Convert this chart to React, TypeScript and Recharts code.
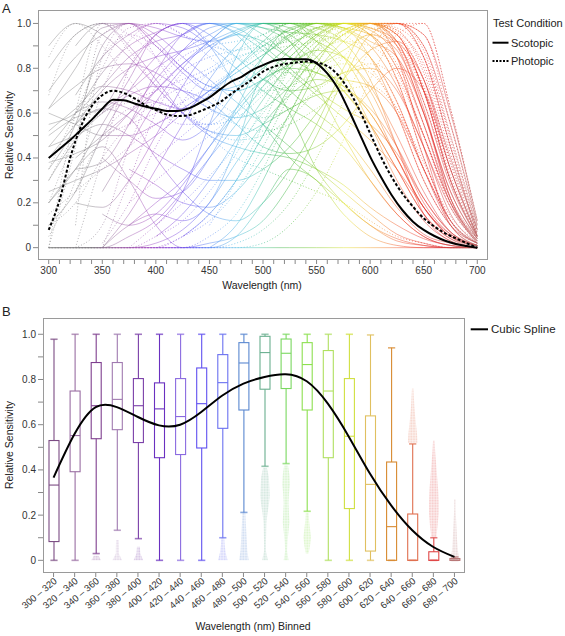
import React from 'react';
import { ComposedChart, Line, Bar, XAxis, YAxis } from 'recharts';

// ---- Panel A: individual sensitivity curves (sampled every 25 nm) ----
const curveWavelengths = [300, 325, 350, 375, 400, 425, 450, 475, 500, 525, 550, 575, 600, 625, 650, 675, 700];

type V = number | null;

const scotopicCurves: V[][] = [
    [0.40, 0.55, 0.70, 0.80, 0.85, 0.88, 0.92, 0.97, 1.0, 1.0, 0.95, 0.85, 0.65, 0.40, 0.18, 0.06, 0.01],
    [0.52, 0.62, 0.72, 0.70, 0.65, 0.62, 0.68, 0.80, 0.92, 1.0, 1.0, 0.97, 0.90, 0.72, 0.45, 0.18, 0.03],
    [null, 0.68, 0.85, 0.95, 1.0, 0.98, 0.90, 0.80, 0.70, 0.62, 0.55, 0.45, 0.30, 0.15, 0.05, 0.01, 0],
    [0.35, 0.55, 0.90, 1.0, 0.92, 0.80, 0.72, 0.70, 0.75, 0.82, 0.88, 0.85, 0.70, 0.45, 0.20, 0.06, 0.01],
    [null, null, 0, 0.15, 0.35, 0.55, 0.75, 0.90, 1.0, 1.0, 1.0, 0.98, 0.95, 0.80, 0.50, 0.20, 0.03],
    [null, null, null, 0.1, 0.2, 0.3, 0.45, 0.6, 0.75, 0.88, 0.98, 1.0, 1.0, 1.0, 0.85, 0.45, 0.05],
    [0.8, 0.95, 1.0, 0.9, 0.75, 0.6, 0.5, 0.45, 0.42, 0.40, 0.35, 0.28, 0.18, 0.10, 0.04, 0.01, 0],
    [null, 0.35, 0.38, 0.55, 0.78, 0.95, 1.0, 0.95, 0.82, 0.70, 0.60, 0.50, 0.35, 0.18, 0.06, 0.02, 0],
    [0.62, 0.80, 0.98, 1.0, 0.9, 0.78, 0.70, 0.72, 0.80, 0.90, 0.97, 1.0, 0.95, 0.75, 0.40, 0.12, 0.02],
    [null, null, 0.40, 0.30, 0.22, 0.25, 0.40, 0.62, 0.85, 0.98, 1.0, 0.98, 0.92, 0.85, 0.60, 0.25, 0.04],
    [0, 0, 0, 0.05, 0.12, 0.25, 0.40, 0.55, 0.72, 0.85, 0.95, 1.0, 1.0, 0.95, 0.70, 0.30, 0.05],
    [null, 0.55, 0.62, 0.58, 0.40, 0.25, 0.15, 0.12, 0.20, 0.35, 0.55, 0.80, 1.0, 1.0, 0.90, 0.55, 0.10],
    [0.2, 0.35, 0.55, 0.75, 0.95, 1.0, 0.90, 0.72, 0.55, 0.40, 0.30, 0.20, 0.10, 0.04, 0.01, 0, 0],
    [null, null, 0.25, 0.45, 0.65, 0.80, 0.92, 1.0, 1.0, 0.95, 0.85, 0.70, 0.55, 0.35, 0.15, 0.04, 0.01],
    [0.5, 0.58, 0.62, 0.70, 0.80, 0.88, 0.95, 1.0, 0.98, 0.92, 0.82, 0.72, 0.60, 0.40, 0.18, 0.05, 0.01],
    [0.3, 0.48, 0.60, 0.68, 0.72, 0.70, 0.65, 0.55, 0.45, 0.42, 0.45, 0.55, 0.70, 0.80, 0.70, 0.35, 0.05],
    [null, null, null, null, 0.1, 0.25, 0.55, 0.85, 1.0, 0.92, 0.72, 0.50, 0.30, 0.15, 0.05, 0.01, 0],
    [0.7, 0.85, 0.95, 1.0, 0.98, 0.94, 0.92, 0.95, 1.0, 1.0, 0.92, 0.78, 0.55, 0.30, 0.12, 0.03, 0],
    [0, 0, 0, 0, 0, 0, 0.02, 0.05, 0.12, 0.28, 0.50, 0.75, 0.95, 1.0, 0.95, 0.60, 0.12],
    [0.55, 0.6, 0.72, 0.85, 0.92, 0.95, 1.0, 0.98, 0.90, 0.80, 0.70, 0.62, 0.55, 0.42, 0.22, 0.07, 0.01],
    [null, 0.6, 0.65, 0.62, 0.55, 0.48, 0.55, 0.70, 0.85, 0.95, 1.0, 0.98, 0.85, 0.60, 0.30, 0.10, 0.02],
    [0.38, 0.42, 0.48, 0.60, 0.75, 0.88, 0.98, 1.0, 0.95, 0.85, 0.78, 0.75, 0.72, 0.60, 0.35, 0.12, 0.02],
    [null, null, null, 0.35, 0.28, 0.20, 0.18, 0.25, 0.40, 0.60, 0.82, 0.97, 1.0, 0.90, 0.60, 0.25, 0.04],
    [0.9, 1.0, 0.95, 0.85, 0.72, 0.60, 0.52, 0.50, 0.55, 0.62, 0.68, 0.70, 0.62, 0.45, 0.22, 0.07, 0.01],
    [0, 0, 0, 0, 0.02, 0.08, 0.20, 0.38, 0.55, 0.68, 0.75, 0.72, 0.60, 0.40, 0.18, 0.05, 0.01],
    [0.45, 0.6, 0.78, 0.9, 0.96, 1.0, 1.0, 0.96, 0.88, 0.78, 0.68, 0.58, 0.48, 0.35, 0.18, 0.05, 0.01],
    [null, 0.2, 0.18, 0.3, 0.5, 0.72, 0.88, 0.95, 0.92, 0.85, 0.82, 0.88, 0.95, 0.88, 0.60, 0.22, 0.03],
    [0.62, 0.72, 0.8, 0.82, 0.78, 0.70, 0.62, 0.58, 0.62, 0.72, 0.85, 0.95, 1.0, 0.92, 0.65, 0.28, 0.05],
    [0, 0, 0, 0, 0, 0, 0, 0, 0, 0, 0, 0, 0, 0, 0, 0, 0],
    [null, null, 0.15, 0.10, 0.15, 0.28, 0.45, 0.62, 0.75, 0.80, 0.78, 0.70, 0.55, 0.35, 0.15, 0.04, 0],
    [null, null, null, null, null, 0.05, 0.15, 0.3, 0.5, 0.72, 0.9, 1.0, 1.0, 0.85, 0.45, 0.1, 0.01],
    [0.25, 0.3, 0.35, 0.42, 0.5, 0.6, 0.7, 0.8, 0.9, 0.97, 1.0, 1.0, 0.98, 0.92, 0.75, 0.40, 0.08],
    [null, 0.9, 1.0, 1.0, 0.95, 0.85, 0.75, 0.65, 0.55, 0.45, 0.35, 0.25, 0.15, 0.06, 0.02, 0, 0],
    [null, null, null, 0.55, 0.70, 0.82, 0.90, 0.96, 1.0, 1.0, 0.98, 0.92, 0.75, 0.45, 0.15, 0.03, 0],
    [0.2, 0.35, 0.45, 0.3, 0.1, 0.0, 0.0, 0.05, 0.2, 0.35, 0.3, 0.15, 0.05, 0.01, 0, 0, 0],
    [null, null, 0.0, 0.1, 0.15, 0.12, 0.2, 0.45, 0.75, 0.6, 0.35, 0.2, 0.1, 0.03, 0.01, 0, 0],
    [null, null, null, null, 0.05, 0.15, 0.3, 0.48, 0.66, 0.82, 0.94, 1.0, 1.0, 0.92, 0.62, 0.22, 0.02],
    [0.6, 0.55, 0.5, 0.5, 0.55, 0.62, 0.7, 0.78, 0.86, 0.94, 1.0, 1.0, 0.97, 0.85, 0.55, 0.2, 0.02],
    [null, 0.4, 0.5, 0.6, 0.7, 0.82, 0.92, 1.0, 1.0, 0.98, 0.92, 0.85, 0.72, 0.5, 0.25, 0.07, 0.01],
    [null, null, 0.6, 0.8, 0.95, 1.0, 0.95, 0.85, 0.75, 0.7, 0.72, 0.78, 0.8, 0.7, 0.45, 0.15, 0.02],
    [0.1, 0.25, 0.5, 0.7, 0.85, 0.95, 1.0, 1.0, 0.98, 0.96, 0.95, 0.92, 0.85, 0.65, 0.35, 0.1, 0.01],
    [null, null, null, null, null, null, 0, 0.1, 0.3, 0.55, 0.78, 0.92, 1.0, 0.95, 0.7, 0.3, 0.04],
    [0.45, 0.5, 0.55, 0.5, 0.42, 0.35, 0.3, 0.3, 0.35, 0.45, 0.6, 0.75, 0.88, 0.92, 0.75, 0.35, 0.05],
];

const photopicCurves: V[][] = [
    [0.0, 0.45, 0.95, 1.0, 0.90, 0.80, 0.72, 0.70, 0.75, 0.85, 0.95, 1.0, 0.95, 0.75, 0.40, 0.12, 0.02],
    [null, 0.0, 0.40, 0.80, 0.95, 1.0, 0.92, 0.85, 0.80, 0.78, 0.80, 0.85, 0.80, 0.60, 0.30, 0.10, 0.02],
    [0.68, 0.95, 1.0, 0.88, 0.72, 0.60, 0.55, 0.58, 0.68, 0.80, 0.92, 1.0, 1.0, 0.85, 0.55, 0.22, 0.04],
    [null, null, 0.0, 0.30, 0.60, 0.78, 0.85, 0.88, 0.92, 0.97, 1.0, 1.0, 0.98, 0.90, 0.70, 0.35, 0.06],
    [0.05, 0.30, 0.70, 0.92, 1.0, 0.95, 0.85, 0.75, 0.70, 0.72, 0.78, 0.82, 0.78, 0.62, 0.35, 0.12, 0.02],
    [null, null, null, 0.0, 0.1, 0.2, 0.32, 0.45, 0.6, 0.75, 0.88, 0.97, 1.0, 1.0, 0.85, 0.50, 0.08],
    [0.85, 1.0, 0.9, 0.75, 0.62, 0.55, 0.55, 0.62, 0.72, 0.82, 0.88, 0.92, 0.90, 0.78, 0.50, 0.20, 0.04],
    [null, 0.0, 0.10, 0.45, 0.72, 0.85, 0.90, 0.92, 0.95, 1.0, 1.0, 0.95, 0.85, 0.65, 0.35, 0.12, 0.02],
    [0, 0, 0, 0, 0.05, 0.12, 0.25, 0.42, 0.62, 0.80, 0.92, 1.0, 1.0, 0.98, 0.85, 0.45, 0.06],
    [0.35, 0.60, 0.85, 0.95, 0.90, 0.80, 0.68, 0.60, 0.58, 0.62, 0.70, 0.78, 0.82, 0.75, 0.50, 0.20, 0.04],
    [null, null, 0.02, 0.20, 0.45, 0.65, 0.78, 0.85, 0.88, 0.90, 0.92, 0.95, 0.98, 0.95, 0.75, 0.38, 0.07],
    [0.0, 0.60, 1.0, 0.95, 0.85, 0.72, 0.62, 0.55, 0.52, 0.55, 0.62, 0.70, 0.72, 0.62, 0.38, 0.14, 0.03],
    [null, null, null, null, 0.0, 0.05, 0.15, 0.30, 0.50, 0.70, 0.85, 0.95, 1.0, 1.0, 0.95, 0.55, 0.09],
    [0.2, 0.5, 0.8, 0.98, 1.0, 0.95, 0.90, 0.88, 0.90, 0.92, 0.95, 0.98, 0.95, 0.80, 0.50, 0.18, 0.03],
    [0, 0, 0, 0, 0, 0, 0, 0, 0.02, 0.10, 0.25, 0.48, 0.75, 0.95, 1.0, 0.62, 0.10],
    [null, 0.25, 0.5, 0.62, 0.65, 0.60, 0.52, 0.48, 0.50, 0.58, 0.70, 0.85, 0.95, 0.92, 0.70, 0.32, 0.06],
    [null, null, null, 0.0, 0.0, 0.0, 0.05, 0.15, 0.35, 0.60, 0.82, 0.95, 1.0, 1.0, 0.90, 0.50, 0.08],
    [0.1, 0.2, 0.4, 0.55, 0.65, 0.72, 0.78, 0.84, 0.90, 0.95, 0.98, 1.0, 1.0, 0.97, 0.80, 0.42, 0.08],
    [null, 0.1, 0.85, 1.0, 0.85, 0.65, 0.50, 0.40, 0.35, 0.30, 0.25, 0.20, 0.12, 0.05, 0.02, 0, 0],
    [0, 0, 0, 0, 0, 0, 0, 0.02, 0.08, 0.20, 0.40, 0.65, 0.88, 1.0, 1.0, 0.62, 0.12],
    [null, null, null, null, null, null, 0.1, 0.3, 0.55, 0.8, 0.95, 1.0, 1.0, 0.95, 0.7, 0.3, 0.05],
    [0.3, 0.5, 0.6, 0.65, 0.7, 0.75, 0.8, 0.88, 0.95, 1.0, 1.0, 1.0, 1.0, 0.9, 0.65, 0.3, 0.06],
    [null, null, 0.5, 0.55, 0.6, 0.65, 0.72, 0.8, 0.88, 0.95, 1.0, 1.0, 0.95, 0.82, 0.55, 0.22, 0.04],
    [0, 0, 0, 0, 0, 0.05, 0.12, 0.25, 0.45, 0.68, 0.88, 1.0, 1.0, 1.0, 0.88, 0.48, 0.08],
    [null, null, null, null, 0.4, 0.5, 0.6, 0.7, 0.8, 0.9, 0.98, 1.0, 0.98, 0.9, 0.72, 0.35, 0.05],
    [0.15, 0.25, 0.35, 0.45, 0.55, 0.62, 0.7, 0.78, 0.86, 0.93, 0.98, 1.0, 1.0, 0.96, 0.82, 0.45, 0.07],
    [null, null, null, 0.2, 0.3, 0.4, 0.5, 0.6, 0.7, 0.8, 0.9, 0.97, 1.0, 0.97, 0.78, 0.38, 0.05],
];

// ---- Panel A: condition means (every 10 nm) ----
const meanWavelengths = [
    300, 310, 320, 330, 340, 350, 360, 370, 380, 390, 400, 410, 420, 430, 440, 450, 460, 470, 480, 490,
    500, 510, 520, 530, 540, 550, 560, 570, 580, 590, 600, 610, 620, 630, 640, 650, 660, 670, 680, 690, 700,
];
const scotopicMean = [
    0.40, 0.44, 0.48, 0.525, 0.57, 0.62, 0.66, 0.658, 0.643, 0.63, 0.62, 0.61, 0.61, 0.62, 0.643, 0.67, 0.706, 0.74, 0.762, 0.792,
    0.814, 0.834, 0.842, 0.84, 0.84, 0.822, 0.777, 0.71, 0.614, 0.51, 0.406, 0.316, 0.235, 0.168, 0.116, 0.079, 0.052, 0.031, 0.016, 0.007, 0,
];
const photopicMean = [
    0.079, 0.21, 0.40, 0.54, 0.63, 0.68, 0.70, 0.69, 0.666, 0.636, 0.614, 0.594, 0.587, 0.59, 0.606, 0.626, 0.65, 0.685, 0.718, 0.75,
    0.785, 0.807, 0.819, 0.825, 0.83, 0.825, 0.81, 0.77, 0.703, 0.614, 0.51, 0.406, 0.316, 0.242, 0.183, 0.131, 0.094, 0.064, 0.042, 0.02, 0,
];

const xLabelTicks = [300, 350, 400, 450, 500, 550, 600, 650, 700];
const sensitivityTicks = [0, 0.1, 0.2, 0.3, 0.4, 0.5, 0.6, 0.7, 0.8, 0.9, 1.0];

// ---- Panel B: binned box plots ----
const bins = [
    '300 – 320', '320 – 340', '340 – 360', '360 – 380', '380 – 400', '400 – 420', '420 – 440', '440 – 460', '460 – 480', '480 – 500',
    '500 – 520', '520 – 540', '540 – 560', '560 – 580', '580 – 600', '600 – 620', '620 – 640', '640 – 660', '660 – 680', '680 – 700',
];
const whiskerLow = [0, 0, 0.03, 0.133, 0.096, 0, 0, 0, 0.10, 0.212, 0.416, 0.428, 0.217, 0, 0, 0, 0, 0, 0, 0];
const q1 = [0.083, 0.392, 0.538, 0.578, 0.521, 0.454, 0.468, 0.497, 0.584, 0.665, 0.757, 0.76, 0.665, 0.454, 0.229, 0.041, 0, 0, 0, 0];
const median = [0.333, 0.552, 0.684, 0.712, 0.684, 0.67, 0.636, 0.693, 0.786, 0.873, 0.919, 0.916, 0.866, 0.749, 0.549, 0.336, 0.149, 0, 0, 0];
const q3 = [0.53, 0.749, 0.875, 0.875, 0.804, 0.785, 0.804, 0.851, 0.91, 0.963, 0.991, 0.979, 0.963, 0.928, 0.804, 0.639, 0.435, 0.205, 0.038, 0.008];
const whiskerHigh = [0.978, 1, 1, 1, 1, 1, 1, 1, 1, 1, 1, 1, 1, 1, 1, 0.997, 0.94, 0.515, 0.10, 0.015];
const outlierLow: V[] = [null, null, 0, 0, 0, null, null, null, 0, 0, 0, 0, 0.03, null, null, null, null, 0.52, 0.10, 0];
const outlierHigh: V[] = [null, null, 0.02, 0.09, 0.06, null, null, null, 0.10, 0.21, 0.41, 0.42, 0.21, null, null, null, null, 0.76, 0.53, 0.27];
// relative density of outlier points, bottom to top
const outlierDensity: (number[] | null)[] = [
    null, null,
    [1, 0.5],
    [1, 0.3, 0.3, 0.25],
    [1, 0.4, 0.3],
    null, null, null,
    [1, 0.6, 0.4, 0.3],
    [1, 0.7, 0.6, 0.5, 0.4, 0.3],
    [0.6, 0.2, 0.2, 0.25, 0.3, 0.5, 0.8, 1.0, 0.9, 0.8, 0.4],
    [0.5, 0.2, 0.3, 0.5, 0.7, 0.6, 0.5, 0.6, 0.8, 0.7, 0.4],
    [0.3, 0.6, 0.8, 0.6, 0.4, 0.3],
    null, null, null, null,
    [1.0, 0.9, 0.7, 0.5, 0.35, 0.25, 0.15],
    [0.5, 0.8, 1.0, 1.0, 0.9, 0.7, 0.5, 0.3, 0.15],
    [1.0, 0.6, 0.45, 0.35, 0.25, 0.15, 0.08],
];
const cubicSpline = [0.366, 0.56, 0.678, 0.678, 0.634, 0.597, 0.60, 0.656, 0.729, 0.782, 0.811, 0.823, 0.792, 0.693, 0.546, 0.383, 0.243, 0.133, 0.059, 0.015];
const binColors = [
    '#7b4b83', '#9a6ea3', '#7f3f8f', '#a07ab0', '#7a3fa8', '#6a30c0', '#8a6ae0', '#6050f0', '#6a70f0', '#5a88d0',
    '#6aaf8f', '#7ad860', '#8de050', '#b0e060', '#d0e040', '#e0c060', '#d88a30', '#e07050', '#e04848', '#b87878',
];

const spectrumStops = [
    { nm: 300, color: '#8a8a8a' },
    { nm: 340, color: '#7e7a80' },
    { nm: 365, color: '#9a62a2' },
    { nm: 390, color: '#a048b8' },
    { nm: 415, color: '#8444d8' },
    { nm: 435, color: '#5a52f0' },
    { nm: 455, color: '#4a88f0' },
    { nm: 475, color: '#40b4e0' },
    { nm: 495, color: '#38c0a8' },
    { nm: 515, color: '#30b040' },
    { nm: 540, color: '#5cc020' },
    { nm: 560, color: '#a0d020' },
    { nm: 578, color: '#e0e020' },
    { nm: 600, color: '#f0a020' },
    { nm: 630, color: '#f04020' },
    { nm: 660, color: '#e02424' },
    { nm: 700, color: '#b86060' },
];

const FONT = '"Liberation Sans", Arial, Helvetica, sans-serif';

// chart A geometry
const A_W = 565, A_H = 300;
const A_MARGIN = { top: 10, right: 77, bottom: 10, left: 0 };
const A_YAXIS_W = 38;
const A_DOMAIN: [number, number] = [290, 710];
const aPlotLeft = A_MARGIN.left + A_YAXIS_W;
const aPlotWidth = A_W - aPlotLeft - A_MARGIN.right;
const nmToPx = (nm: number) => aPlotLeft + ((nm - A_DOMAIN[0]) / (A_DOMAIN[1] - A_DOMAIN[0])) * aPlotWidth;

const minorWavelengthTicks = Array.from({ length: 41 }, (_, i) => 300 + i * 10);

const curveRows = (() => {
    const rows: Record<string, number | null>[] = [];
    for (let w = 300; w <= 700; w += 5) {
        const row: Record<string, number | null> = { w };
        const mi = meanWavelengths.indexOf(w);
        if (mi >= 0) {
            row.scotopic = scotopicMean[mi];
            row.photopic = photopicMean[mi];
        }
        const ci = curveWavelengths.indexOf(w);
        if (ci >= 0) {
            scotopicCurves.forEach((c, k) => (row['s' + k] = c[ci]));
            photopicCurves.forEach((c, k) => (row['p' + k] = c[ci]));
        }
        rows.push(row);
    }
    return rows;
})();

const boxRows = bins.map((bin, i) => {
    const lo = Math.min(whiskerLow[i], outlierLow[i] ?? whiskerLow[i]);
    const hi = Math.max(whiskerHigh[i], outlierHigh[i] ?? whiskerHigh[i]);
    return { bin, i, range: [lo, hi], spline: cubicSpline[i] };
});

const YTick = (props: any) => {
    const { x, y, payload } = props;
    const v = Math.round(payload.value * 10);
    if (v % 2 !== 0) return <g />;
    return (
        <text x={x} y={y} dy="0.35em" textAnchor="end" fontSize={10} fontFamily={FONT} fill="#333">
            {v === 0 ? '0' : (v / 10).toFixed(1)}
        </text>
    );
};

const XTickA = (props: any) => {
    const { x, y, payload } = props;
    if (!xLabelTicks.includes(payload.value)) return <g />;
    return (
        <text x={x} y={y} dy="0.75em" textAnchor="middle" fontSize={10} fontFamily={FONT} fill="#333">
            {payload.value}
        </text>
    );
};

const XTickB = (props: any) => {
    const { x, y, payload } = props;
    const ax = x + 4;
    const ay = y + 3;
    return (
        <text x={ax} y={ay} textAnchor="end" fontSize={9.5} fontFamily={FONT} fill="#333" transform={`rotate(-40, ${ax}, ${ay})`}>
            {payload.value}
        </text>
    );
};

const BoxShape = (props: any) => {
    const { x, y, width, height, payload } = props;
    const i: number = payload.i;
    const [lo, hi] = payload.range as number[];
    const top = Math.min(y, y + height);
    const h = Math.abs(height);
    const py = (v: number) => top + (h * (hi - v)) / (hi - lo);
    const cx = x + width / 2;
    const c = binColors[i];
    const cap = 3.6;

    let cloud: React.ReactNode = null;
    const dens = outlierDensity[i];
    const oLo = outlierLow[i];
    const oHi = outlierHigh[i];
    if (dens && oLo != null && oHi != null) {
        const n = dens.length;
        const maxHalf = 4.8;
        const at = (k: number) => py(oLo + ((oHi - oLo) * k) / (n - 1));
        const right = dens.map((d, k) => `${cx + Math.max(0.7, d * maxHalf)},${at(k)}`);
        const left = dens.map((d, k) => `${cx - Math.max(0.7, d * maxHalf)},${at(k)}`).reverse();
        cloud = <polygon points={[...right, ...left].join(' ')} fill={`url(#dots${i})`} stroke="none" />;
    }

    return (
        <g>
            {cloud}
            <line x1={cx} x2={cx} y1={py(whiskerHigh[i])} y2={py(q3[i])} stroke={c} strokeWidth={1.1} />
            <line x1={cx} x2={cx} y1={py(q1[i])} y2={py(whiskerLow[i])} stroke={c} strokeWidth={1.1} />
            <line x1={cx - cap} x2={cx + cap} y1={py(whiskerHigh[i])} y2={py(whiskerHigh[i])} stroke={c} strokeWidth={1.6} strokeOpacity={0.7} />
            <line x1={cx - cap} x2={cx + cap} y1={py(whiskerLow[i])} y2={py(whiskerLow[i])} stroke={c} strokeWidth={1.6} strokeOpacity={0.7} />
            <rect x={x} y={py(q3[i])} width={width} height={Math.max(0.5, py(q1[i]) - py(q3[i]))} fill="none" stroke={c} strokeWidth={1.1} />
            <line x1={x} x2={x + width} y1={py(median[i])} y2={py(median[i])} stroke={c} strokeWidth={1.1} />
        </g>
    );
};

const ChartA = () => (
    <ComposedChart width={A_W} height={A_H} data={curveRows} margin={A_MARGIN}>
        <defs>
            <linearGradient id="spectrum" gradientUnits="userSpaceOnUse" x1={nmToPx(300)} y1={0} x2={nmToPx(700)} y2={0}>
                {spectrumStops.map((s) => (
                    <stop key={s.nm} offset={(s.nm - 300) / 400} stopColor={s.color} />
                ))}
            </linearGradient>
        </defs>
        <XAxis
            dataKey="w"
            type="number"
            domain={A_DOMAIN}
            ticks={minorWavelengthTicks}
            interval={0}
            tick={<XTickA />}
            tickSize={4}
            tickLine={{ stroke: '#888' }}
            axisLine={false}
            height={30}
        />
        <YAxis
            type="number"
            domain={[-0.055, 1.06]}
            ticks={sensitivityTicks}
            interval={0}
            tick={<YTick />}
            tickSize={5}
            tickLine={{ stroke: '#888' }}
            axisLine={false}
            width={A_YAXIS_W}
            allowDataOverflow
        />
        {scotopicCurves.map((_, k) => (
            <Line
                key={'s' + k}
                dataKey={'s' + k}
                type="monotone"
                stroke="url(#spectrum)"
                strokeOpacity={0.5}
                strokeWidth={0.9}
                dot={false}
                activeDot={false}
                connectNulls
                isAnimationActive={false}
            />
        ))}
        {photopicCurves.map((_, k) => (
            <Line
                key={'p' + k}
                dataKey={'p' + k}
                type="monotone"
                stroke="url(#spectrum)"
                strokeOpacity={0.65}
                strokeWidth={0.9}
                strokeDasharray="1 2"
                dot={false}
                activeDot={false}
                connectNulls
                isAnimationActive={false}
            />
        ))}
        <Line dataKey="photopic" type="monotone" stroke="#000" strokeWidth={2} strokeDasharray="3 2" dot={false} activeDot={false} connectNulls isAnimationActive={false} />
        <Line dataKey="scotopic" type="monotone" stroke="#000" strokeWidth={2} dot={false} activeDot={false} connectNulls isAnimationActive={false} />
    </ComposedChart>
);

const ChartB = () => (
    <ComposedChart width={565} height={336} data={boxRows} margin={{ top: 18, right: 100, bottom: 10, left: 0 }}>
        <defs>
            {binColors.map((c, i) => (
                <pattern key={i} id={`dots${i}`} width={1.6} height={1.6} patternUnits="userSpaceOnUse">
                    <rect x={0.2} y={0.2} width={0.9} height={0.9} fill={c} fillOpacity={0.55} />
                </pattern>
            ))}
        </defs>
        <XAxis
            dataKey="bin"
            type="category"
            interval={0}
            tick={<XTickB />}
            tickSize={4}
            tickLine={{ stroke: '#888' }}
            axisLine={false}
            height={53}
        />
        <YAxis
            type="number"
            domain={[-0.056, 1.072]}
            ticks={sensitivityTicks}
            interval={0}
            tick={<YTick />}
            tickSize={5}
            tickLine={{ stroke: '#888' }}
            axisLine={false}
            width={43}
            allowDataOverflow
        />
        <Bar dataKey="range" barSize={10} shape={<BoxShape />} isAnimationActive={false} />
        <Line dataKey="spline" type="natural" stroke="#000" strokeWidth={2} dot={false} activeDot={false} isAnimationActive={false} />
    </ComposedChart>
);

const App = () => {
    const txt = { fontFamily: FONT, fill: '#222' };
    return (
        <div style={{ position: 'absolute', left: 0, top: 0, width: 565, height: 636, background: '#fff' }}>
            <div style={{ position: 'absolute', left: 0, top: 0 }}>
                <ChartA />
            </div>
            <div style={{ position: 'absolute', left: 0, top: 300 }}>
                <ChartB />
            </div>
            <svg width={565} height={636} style={{ position: 'absolute', left: 0, top: 0, pointerEvents: 'none' }}>
                <rect x={38.5} y={10.5} width={449} height={249} fill="none" stroke="#9a9a9a" />
                <rect x={43.5} y={318.5} width={421} height={254} fill="none" stroke="#9a9a9a" />
                <text x={2} y={13} fontSize={13} {...txt}>A</text>
                <text x={2} y={316} fontSize={13} {...txt}>B</text>
                <text x={0} y={0} fontSize={10.5} textAnchor="middle" transform="translate(12.5,135) rotate(-90)" {...txt}>Relative Sensitivity</text>
                <text x={0} y={0} fontSize={10.5} textAnchor="middle" transform="translate(12.5,445) rotate(-90)" {...txt}>Relative Sensitivity</text>
                <text x={262} y={289} fontSize={10.5} textAnchor="middle" {...txt}>Wavelength (nm)</text>
                <text x={253} y={630} fontSize={10.5} textAnchor="middle" {...txt}>Wavelength (nm) Binned</text>
                <text x={493} y={27} fontSize={11} {...txt}>Test Condition</text>
                <line x1={492.5} x2={508.5} y1={42.7} y2={42.7} stroke="#000" strokeWidth={2} />
                <text x={511} y={46.7} fontSize={11} {...txt}>Scotopic</text>
                <line x1={492.5} x2={508.5} y1={61} y2={61} stroke="#000" strokeWidth={2} strokeDasharray="2 1.5" />
                <text x={511} y={65} fontSize={11} {...txt}>Photopic</text>
                <line x1={470.7} x2={488} y1={329.3} y2={329.3} stroke="#000" strokeWidth={2} />
                <text x={491} y={333.3} fontSize={11.5} {...txt}>Cubic Spline</text>
            </svg>
        </div>
    );
};

export default App;
